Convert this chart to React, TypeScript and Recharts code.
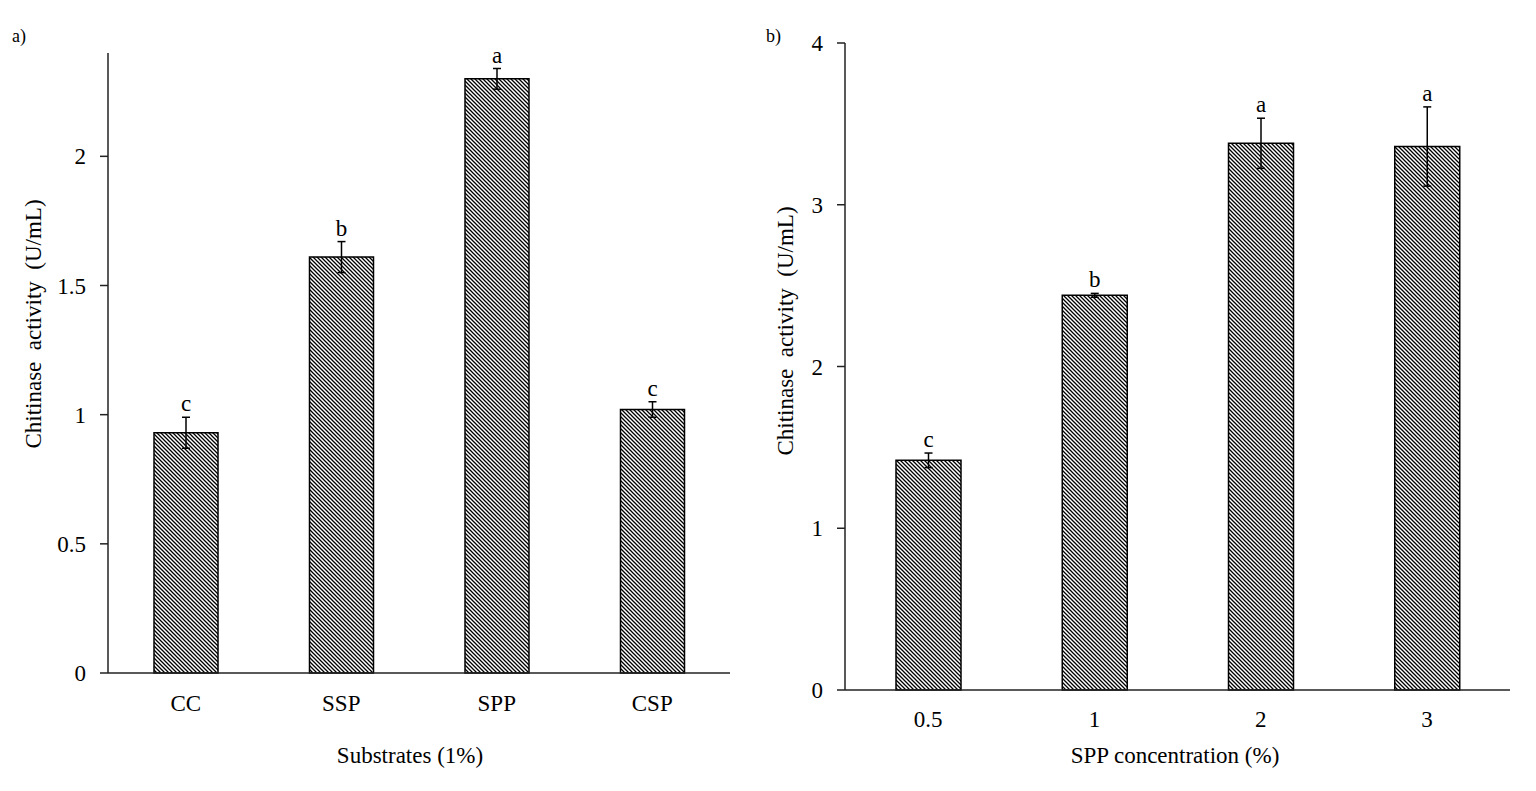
import React from "react";
import { BarChart, Bar, XAxis, YAxis, ErrorBar, LabelList, Label } from "recharts";

// panel a: substrates
const substrates = ["CC", "SSP", "SPP", "CSP"];
const substrateActivity = [0.93, 1.61, 2.3, 1.02];
const substrateErr = [0.06, 0.06, 0.04, 0.03];
const substrateSig = ["c", "b", "a", "c"];
const substrateTicks = [0, 0.5, 1, 1.5, 2];

// panel b: SPP concentration
const concentrations = ["0.5", "1", "2", "3"];
const concActivity = [1.42, 2.44, 3.38, 3.36];
const concErr = [0.045, 0.012, 0.155, 0.245];
const concSig = ["c", "b", "a", "a"];
const concTicks = [0, 1, 2, 3, 4];

const FONT = "'Liberation Serif', 'Times New Roman', serif";
const tickStyle = { fontSize: 23, fill: "#000", fontFamily: FONT };

const toRows = (cats: string[], vals: number[], errs: number[], sig: string[]) =>
  cats.map((c, i) => ({ name: c, value: vals[i], err: errs[i], sig: sig[i] }));

const substrateData = toRows(substrates, substrateActivity, substrateErr, substrateSig);
const concData = toRows(concentrations, concActivity, concErr, concSig);

// letter sits just above the top of the error bar
const sigLabel = (vals: number[], errs: number[]) => (props: any) => {
  const { x, y, width, height, value, index } = props;
  const v = vals[index];
  const errPx = (errs[index] * height) / v;
  return (
    <text
      x={x + width / 2}
      y={y - errPx - 6}
      textAnchor="middle"
      fontSize={23}
      fontFamily={FONT}
      fill="#000"
    >
      {value}
    </text>
  );
};

const title = (x: number, y: number, text: string, rotate = false) => () =>
  (
    <text
      x={x}
      y={y}
      textAnchor="middle"
      fontSize={23}
      fontFamily={FONT}
      fill="#000"
      style={{ whiteSpace: "pre" }}
      transform={rotate ? `rotate(-90, ${x}, ${y})` : undefined}
    >
      {text}
    </text>
  );

function Hatch({ id }: { id: string }) {
  return (
    <defs>
      <pattern id={id} patternUnits="userSpaceOnUse" width={4} height={4}>
        <rect width={4} height={4} fill="#fff" />
        <path d="M-1,-1 L5,5 M3,-1 L5,1 M-1,3 L1,5" stroke="#000" strokeWidth={1.3} />
      </pattern>
    </defs>
  );
}

function Panel({
  data,
  vals,
  errs,
  domain,
  ticks,
  width,
  margin,
  barSize,
  tickMargin,
  xTitle,
  yTitle,
  hatchId,
}: any) {
  return (
    <BarChart width={width} height={791} data={data} margin={margin}>
      <Hatch id={hatchId} />
      <XAxis
        dataKey="name"
        height={30}
        tickLine={false}
        tickSize={0}
        tickMargin={tickMargin}
        tick={tickStyle}
        axisLine={{ stroke: "#222", strokeWidth: 1.5 }}
      >
        <Label content={title(xTitle[0], xTitle[1], xTitle[2])} />
      </XAxis>
      <YAxis
        width={60}
        domain={domain}
        ticks={ticks}
        tickSize={8}
        tickMargin={14}
        tick={tickStyle}
        tickLine={{ stroke: "#222", strokeWidth: 1.5 }}
        axisLine={{ stroke: "#222", strokeWidth: 1.5 }}
      >
        <Label content={title(yTitle[0], yTitle[1], yTitle[2], true)} />
      </YAxis>
      <Bar
        dataKey="value"
        fill={`url(#${hatchId})`}
        stroke="#000"
        strokeWidth={1.5}
        barSize={barSize}
        isAnimationActive={false}
      >
        <ErrorBar dataKey="err" width={4} stroke="#000" strokeWidth={1.5} direction="y" />
        <LabelList dataKey="sig" content={sigLabel(vals, errs)} />
      </Bar>
    </BarChart>
  );
}

export default function App() {
  return (
    <div style={{ position: "absolute", left: 0, top: 0, width: 1536, height: 791, background: "#fff" }}>
      <div style={{ position: "absolute", left: 12, top: 26, fontFamily: FONT, fontSize: 18 }}>a)</div>
      <div style={{ position: "absolute", left: 766, top: 26, fontFamily: FONT, fontSize: 18 }}>b)</div>
      <div style={{ position: "absolute", left: 0, top: 0 }}>
        <Panel
          data={substrateData}
          vals={substrateActivity}
          errs={substrateErr}
          domain={[0, 2.4]}
          ticks={substrateTicks}
          width={760}
          margin={{ top: 53, right: 30, bottom: 88, left: 48 }}
          barSize={64}
          tickMargin={22}
          xTitle={[410, 763, "Substrates (1%)"]}
          yTitle={[41, 324, "Chitinase  activity  (U/mL)"]}
          hatchId="hatchA"
        />
      </div>
      <div style={{ position: "absolute", left: 760, top: 0 }}>
        <Panel
          data={concData}
          vals={concActivity}
          errs={concErr}
          domain={[0, 4]}
          ticks={concTicks}
          width={776}
          margin={{ top: 43, right: 26, bottom: 71, left: 25 }}
          barSize={65}
          tickMargin={21}
          xTitle={[415, 763, "SPP concentration (%)"]}
          yTitle={[33, 331, "Chitinase  activity  (U/mL)"]}
          hatchId="hatchB"
        />
      </div>
    </div>
  );
}
